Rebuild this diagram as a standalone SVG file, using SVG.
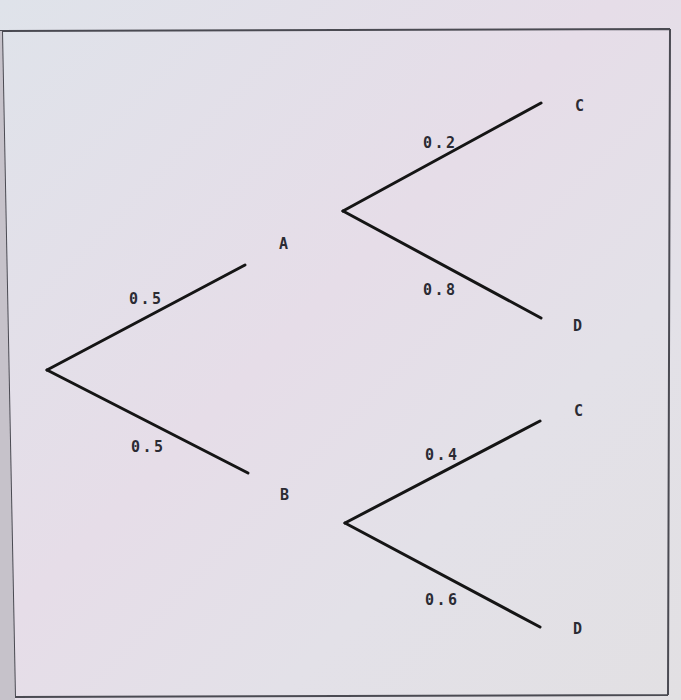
<svg xmlns="http://www.w3.org/2000/svg" width="681" height="700" viewBox="0 0 681 700">
<defs>
<linearGradient id="bg" x1="0" y1="0" x2="1" y2="1">
<stop offset="0" stop-color="#dfe3ea"/>
<stop offset="0.45" stop-color="#e6dde8"/>
<stop offset="0.7" stop-color="#e3e1e8"/>
<stop offset="1" stop-color="#e2e0e3"/>
</linearGradient>
<style>
.br{stroke:#151515;stroke-width:3;fill:none;stroke-linecap:round}
.t{font-family:"DejaVu Sans Mono","Liberation Mono",monospace;font-weight:bold;font-size:15px;letter-spacing:2.5px;fill:#2b2b33}
</style>
</defs>
<rect width="681" height="700" fill="url(#bg)"/>
<path d="M0,31 L670,29 M2,31 L15,697 L668,695 M670,29 L668,695" stroke="#4a4a52" stroke-width="2" fill="none"/>
<polygon points="0,31 2,31 15,697 15,700 0,700" fill="#c6c2ca"/>
<g id="connectors">
<line class="br" x1="47" y1="370" x2="245" y2="265"/>
<line class="br" x1="47" y1="370" x2="248" y2="473"/>
<line class="br" x1="343" y1="211" x2="541" y2="103"/>
<line class="br" x1="343" y1="211" x2="541" y2="318"/>
<line class="br" x1="345" y1="523" x2="540" y2="421"/>
<line class="br" x1="345" y1="523" x2="540" y2="627"/>
</g>
<g id="labels">
<text class="t" x="129" y="304">0.5</text>
<text class="t" x="131" y="452">0.5</text>
<text class="t" x="423" y="148">0.2</text>
<text class="t" x="423" y="295">0.8</text>
<text class="t" x="425" y="460">0.4</text>
<text class="t" x="425" y="605">0.6</text>
</g>
<g id="nodeA"><text class="t" x="279" y="249">A</text></g>
<g id="nodeB"><text class="t" x="280" y="500">B</text></g>
<g id="nodeC1"><text class="t" x="575" y="111">C</text></g>
<g id="nodeD1"><text class="t" x="573" y="331">D</text></g>
<g id="nodeC2"><text class="t" x="574" y="416">C</text></g>
<g id="nodeD2"><text class="t" x="573" y="634">D</text></g>
</svg>
